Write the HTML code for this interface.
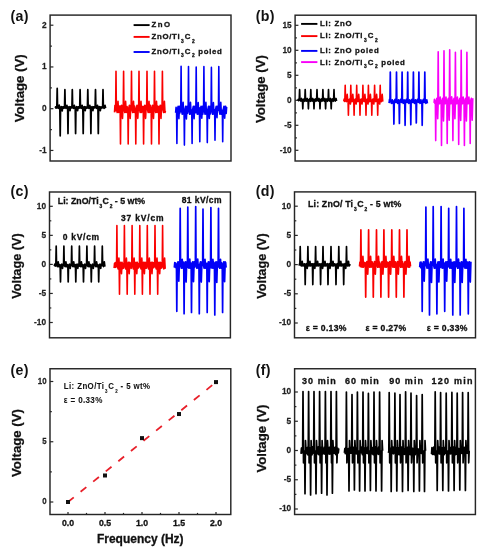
<!DOCTYPE html>
<html><head><meta charset="utf-8"><style>
html,body{margin:0;padding:0;background:#fff;}
svg{display:block;filter:blur(0.3px);}
text{font-family:"Liberation Sans",sans-serif;}
</style></head><body>
<svg width="484" height="550" viewBox="0 0 484 550">
<rect width="484" height="550" fill="#fff"/>
<rect x="50.1" y="15.1" width="180.9" height="145.9" fill="none" stroke="#262626" stroke-width="1.45"/>
<line x1="50.1" y1="25.20" x2="53.4" y2="25.20" stroke="#262626" stroke-width="1.2"/>
<line x1="50.1" y1="66.95" x2="53.4" y2="66.95" stroke="#262626" stroke-width="1.2"/>
<line x1="50.1" y1="108.70" x2="53.4" y2="108.70" stroke="#262626" stroke-width="1.2"/>
<line x1="50.1" y1="150.45" x2="53.4" y2="150.45" stroke="#262626" stroke-width="1.2"/>
<line x1="50.1" y1="46.08" x2="51.9" y2="46.08" stroke="#262626" stroke-width="1.2"/>
<line x1="50.1" y1="87.83" x2="51.9" y2="87.83" stroke="#262626" stroke-width="1.2"/>
<line x1="50.1" y1="129.57" x2="51.9" y2="129.57" stroke="#262626" stroke-width="1.2"/>
<line x1="133.6" y1="25.1" x2="149.6" y2="25.1" stroke="#000000" stroke-width="1.9"/>
<line x1="133.6" y1="36.9" x2="149.6" y2="36.9" stroke="#fa0000" stroke-width="1.9"/>
<line x1="133.6" y1="52" x2="149.6" y2="52" stroke="#0000f8" stroke-width="1.9"/>
<path d="M55.20,107.90 L55.65,106.85 L56.10,108.12 L56.55,107.06 L56.85,107.50 L57.20,88.40 L57.55,107.50 L58.40,108.20 L59.20,105.21 L59.80,108.20 L59.85,107.50 L60.20,135.80 L60.55,107.50 L61.40,106.80 L62.20,110.90 L62.80,106.80 L63.25,108.02 L63.70,106.99 L64.15,108.08 L64.55,107.50 L64.90,89.70 L65.25,107.50 L66.10,108.20 L66.90,105.36 L67.50,108.20 L67.65,107.50 L68.00,133.50 L68.35,107.50 L69.20,106.80 L70.00,110.62 L70.60,106.80 L71.05,106.87 L71.50,107.88 L71.95,107.50 L72.30,89.70 L72.65,107.50 L73.50,108.20 L74.30,105.36 L74.90,108.20 L75.25,107.50 L75.60,133.50 L75.95,107.50 L76.80,106.80 L77.60,110.62 L78.20,106.80 L78.65,107.14 L79.10,108.14 L79.55,107.00 L79.75,107.50 L80.10,89.70 L80.45,107.50 L81.30,108.20 L82.10,105.36 L82.70,108.20 L82.85,107.50 L83.20,133.50 L83.55,107.50 L84.40,106.80 L85.20,110.62 L85.80,106.80 L86.25,108.12 L86.70,107.15 L87.15,108.01 L87.45,107.50 L87.80,89.70 L88.15,107.50 L89.00,108.20 L89.80,105.36 L90.40,108.20 L90.55,107.50 L90.90,133.50 L91.25,107.50 L92.10,106.80 L92.90,110.62 L93.50,106.80 L93.95,106.90 L94.40,107.93 L94.85,106.82 L95.15,107.50 L95.50,89.70 L95.85,107.50 L96.70,108.20 L97.50,105.36 L98.10,108.20 L97.95,107.50 L98.30,133.50 L98.65,107.50 L99.50,106.80 L100.30,110.62 L100.90,106.80 L101.35,108.17 L101.80,107.14 L102.25,107.86 L102.65,107.50 L103.00,89.70 L103.35,107.50 L104.20,108.20 L105.00,105.36 L105.60,108.20" fill="none" stroke="#000000" stroke-width="1.75" stroke-linejoin="round"/>
<path d="M114.50,112.42 L114.95,105.39 L115.40,110.80 L115.65,108.90 L116.00,71.30 L116.35,108.90 L117.20,112.50 L118.00,101.38 L118.60,112.50 L119.05,106.95 L119.50,112.20 L119.95,105.78 L120.15,108.90 L120.50,144.00 L120.85,108.90 L121.70,105.30 L122.50,118.38 L123.10,105.30 L123.25,108.90 L123.60,71.30 L123.95,108.90 L124.80,112.50 L125.60,101.38 L126.20,112.50 L126.65,111.91 L127.10,106.55 L127.55,111.79 L127.85,108.90 L128.20,144.00 L128.55,108.90 L129.40,105.30 L130.20,118.38 L130.80,105.30 L131.15,108.90 L131.50,71.30 L131.85,108.90 L132.70,112.50 L133.50,101.38 L134.10,112.50 L134.55,106.01 L135.00,111.75 L135.45,108.90 L135.80,144.00 L136.15,108.90 L137.00,105.30 L137.80,118.38 L138.40,105.30 L138.65,108.90 L139.00,71.30 L139.35,108.90 L140.20,112.50 L141.00,101.38 L141.60,112.50 L142.05,106.81 L142.50,111.48 L142.95,106.39 L143.25,108.90 L143.60,144.00 L143.95,108.90 L144.80,105.30 L145.60,118.38 L146.20,105.30 L146.65,108.90 L147.00,71.30 L147.35,108.90 L148.20,112.50 L149.00,101.38 L149.60,112.50 L150.05,112.00 L150.50,105.31 L150.95,112.41 L151.15,108.90 L151.50,144.00 L151.85,108.90 L152.70,105.30 L153.50,118.38 L154.10,105.30 L154.15,108.90 L154.50,71.30 L154.85,108.90 L155.70,112.50 L156.50,101.38 L157.10,112.50 L157.55,106.12 L158.00,111.50 L158.45,106.62 L158.65,108.90 L159.00,144.00 L159.35,108.90 L160.20,105.30 L161.00,118.38 L161.60,105.30 L162.05,108.90 L162.40,71.30 L162.75,108.90 L163.60,112.50 L164.40,101.38 L165.00,112.50 L165.45,110.76" fill="none" stroke="#fa0000" stroke-width="1.6" stroke-linejoin="round"/>
<path d="M175.60,112.78 L176.05,107.21 L176.55,110.30 L176.90,143.50 L177.25,110.30 L178.10,106.30 L178.90,118.60 L179.50,106.30 L179.95,113.04 L180.40,107.09 L180.75,110.30 L181.10,66.20 L181.45,110.30 L182.30,114.30 L183.10,102.36 L183.70,114.30 L184.05,110.30 L184.40,145.10 L184.75,110.30 L185.60,106.30 L186.40,119.00 L187.00,106.30 L187.45,113.55 L187.90,108.17 L188.15,110.30 L188.50,66.50 L188.85,110.30 L189.70,114.30 L190.50,102.42 L191.10,114.30 L191.55,112.33 L191.75,110.30 L192.10,143.50 L192.45,110.30 L193.30,106.30 L194.10,118.60 L194.70,106.30 L195.15,106.63 L195.60,112.82 L195.85,110.30 L196.20,67.00 L196.55,110.30 L197.40,114.30 L198.20,102.51 L198.80,114.30 L199.25,107.83 L199.45,110.30 L199.80,141.80 L200.15,110.30 L201.00,106.30 L201.80,118.17 L202.40,106.30 L202.85,114.29 L203.30,107.36 L203.55,110.30 L203.90,66.50 L204.25,110.30 L205.10,114.30 L205.90,102.42 L206.50,114.30 L206.95,110.30 L207.30,142.60 L207.65,110.30 L208.50,106.30 L209.30,118.38 L209.90,106.30 L210.35,113.97 L210.80,107.35 L211.05,110.30 L211.40,67.40 L211.75,110.30 L212.60,114.30 L213.40,102.58 L214.00,114.30 L214.45,113.58 L214.65,110.30 L215.00,140.20 L215.35,110.30 L216.20,106.30 L217.00,117.77 L217.60,106.30 L218.05,108.00 L218.45,110.30 L218.80,66.50 L219.15,110.30 L220.00,114.30 L220.80,102.42 L221.40,114.30 L221.85,113.57 L222.35,110.30 L222.70,141.80 L223.05,110.30 L223.90,106.30 L224.70,118.17 L225.30,106.30 L225.75,106.56 L226.20,113.35 L226.65,106.82" fill="none" stroke="#0000f8" stroke-width="1.6" stroke-linejoin="round"/>
<rect x="295.1" y="15.2" width="181.0" height="145.8" fill="none" stroke="#262626" stroke-width="1.45"/>
<line x1="295.1" y1="25.30" x2="298.40000000000003" y2="25.30" stroke="#262626" stroke-width="1.2"/>
<line x1="295.1" y1="50.30" x2="298.40000000000003" y2="50.30" stroke="#262626" stroke-width="1.2"/>
<line x1="295.1" y1="75.30" x2="298.40000000000003" y2="75.30" stroke="#262626" stroke-width="1.2"/>
<line x1="295.1" y1="100.30" x2="298.40000000000003" y2="100.30" stroke="#262626" stroke-width="1.2"/>
<line x1="295.1" y1="125.30" x2="298.40000000000003" y2="125.30" stroke="#262626" stroke-width="1.2"/>
<line x1="295.1" y1="150.30" x2="298.40000000000003" y2="150.30" stroke="#262626" stroke-width="1.2"/>
<line x1="295.1" y1="37.80" x2="296.90000000000003" y2="37.80" stroke="#262626" stroke-width="1.2"/>
<line x1="295.1" y1="62.80" x2="296.90000000000003" y2="62.80" stroke="#262626" stroke-width="1.2"/>
<line x1="295.1" y1="87.80" x2="296.90000000000003" y2="87.80" stroke="#262626" stroke-width="1.2"/>
<line x1="295.1" y1="112.80" x2="296.90000000000003" y2="112.80" stroke="#262626" stroke-width="1.2"/>
<line x1="295.1" y1="137.80" x2="296.90000000000003" y2="137.80" stroke="#262626" stroke-width="1.2"/>
<line x1="301.1" y1="23.9" x2="317.4" y2="23.9" stroke="#000000" stroke-width="1.9"/>
<line x1="301.1" y1="36.1" x2="317.4" y2="36.1" stroke="#fa0000" stroke-width="1.9"/>
<line x1="301.1" y1="50.9" x2="317.4" y2="50.9" stroke="#0000f8" stroke-width="1.9"/>
<line x1="301.1" y1="62.1" x2="317.4" y2="62.1" stroke="#f800f8" stroke-width="1.9"/>
<path d="M297.80,100.62 L298.25,99.45 L298.70,100.70 L299.15,99.42 L299.25,100.00 L299.60,89.70 L299.95,100.00 L300.80,101.00 L301.60,98.45 L302.20,101.00 L302.45,100.00 L302.80,108.80 L303.15,100.00 L304.00,99.00 L304.80,101.32 L305.40,99.00 L304.85,100.00 L305.20,89.70 L305.55,100.00 L306.40,101.00 L307.20,98.45 L307.80,101.00 L308.05,100.00 L308.40,108.80 L308.75,100.00 L309.60,99.00 L310.40,101.32 L311.00,99.00 L310.45,100.00 L310.80,89.70 L311.15,100.00 L312.00,101.00 L312.80,98.45 L313.40,101.00 L313.65,100.00 L314.00,108.80 L314.35,100.00 L315.20,99.00 L316.00,101.32 L316.60,99.00 L316.65,100.00 L317.00,89.70 L317.35,100.00 L318.20,101.00 L319.00,98.45 L319.60,101.00 L319.65,100.00 L320.00,108.80 L320.35,100.00 L321.20,99.00 L322.00,101.32 L322.60,99.00 L322.55,100.00 L322.90,89.70 L323.25,100.00 L324.10,101.00 L324.90,98.45 L325.50,101.00 L325.25,100.00 L325.60,108.80 L325.95,100.00 L326.80,99.00 L327.60,101.32 L328.20,99.00 L328.15,100.00 L328.50,89.70 L328.85,100.00 L329.70,101.00 L330.50,98.45 L331.10,101.00 L330.85,100.00 L331.20,108.80 L331.55,100.00 L332.40,99.00 L333.20,101.32 L333.80,99.00 L333.65,100.00 L334.00,89.70 L334.35,100.00 L335.20,101.00 L336.00,98.45 L336.60,101.00" fill="none" stroke="#000000" stroke-width="1.7" stroke-linejoin="round"/>
<path d="M343.70,101.35 L344.15,99.17 L344.60,101.47 L344.85,100.30 L345.20,85.20 L345.55,100.30 L346.40,101.60 L347.20,94.26 L347.80,101.60 L348.05,100.30 L348.40,115.30 L348.75,100.30 L349.60,99.00 L350.40,104.05 L351.00,99.00 L350.45,100.30 L350.80,85.20 L351.15,100.30 L352.00,101.60 L352.80,94.26 L353.40,101.60 L353.75,100.30 L354.10,115.30 L354.45,100.30 L355.30,99.00 L356.10,104.05 L356.70,99.00 L356.35,100.30 L356.70,85.20 L357.05,100.30 L357.90,101.60 L358.70,94.26 L359.30,101.60 L359.65,100.30 L360.00,115.30 L360.35,100.30 L361.20,99.00 L362.00,104.05 L362.60,99.00 L362.55,100.30 L362.90,85.20 L363.25,100.30 L364.10,101.60 L364.90,94.26 L365.50,101.60 L365.65,100.30 L366.00,115.30 L366.35,100.30 L367.20,99.00 L368.00,104.05 L368.60,99.00 L368.05,100.30 L368.40,85.20 L368.75,100.30 L369.60,101.60 L370.40,94.26 L371.00,101.60 L371.45,100.30 L371.80,115.30 L372.15,100.30 L373.00,99.00 L373.80,104.05 L374.40,99.00 L374.25,100.30 L374.60,85.20 L374.95,100.30 L375.80,101.60 L376.60,94.26 L377.20,101.60 L377.35,100.30 L377.70,115.30 L378.05,100.30 L378.90,99.00 L379.70,104.05 L380.30,99.00 L379.85,100.30 L380.20,85.20 L380.55,100.30 L381.40,101.60 L382.20,94.26 L382.80,101.60" fill="none" stroke="#fa0000" stroke-width="1.6" stroke-linejoin="round"/>
<path d="M389.10,103.09 L389.55,99.48 L389.95,101.30 L390.30,72.10 L390.65,101.30 L391.50,103.30 L392.30,99.84 L392.90,103.30 L393.35,102.79 L393.55,101.30 L393.90,124.10 L394.25,101.30 L395.10,99.30 L395.90,102.44 L396.50,99.30 L396.15,101.30 L396.50,72.10 L396.85,101.30 L397.70,103.30 L398.50,99.84 L399.10,103.30 L399.05,101.30 L399.40,123.50 L399.75,101.30 L400.60,99.30 L401.40,102.41 L402.00,99.30 L401.75,101.30 L402.10,72.10 L402.45,101.30 L403.30,103.30 L404.10,99.84 L404.70,103.30 L404.75,101.30 L405.10,125.30 L405.45,101.30 L406.30,99.30 L407.10,102.50 L407.70,99.30 L407.35,101.30 L407.70,72.10 L408.05,101.30 L408.90,103.30 L409.70,99.84 L410.30,103.30 L410.45,101.30 L410.80,124.70 L411.15,101.30 L412.00,99.30 L412.80,102.47 L413.40,99.30 L413.05,101.30 L413.40,72.10 L413.75,101.30 L414.60,103.30 L415.40,99.84 L416.00,103.30 L415.95,101.30 L416.30,122.90 L416.65,101.30 L417.50,99.30 L418.30,102.38 L418.90,99.30 L418.55,101.30 L418.90,72.10 L419.25,101.30 L420.10,103.30 L420.90,99.84 L421.50,103.30 L421.85,101.30 L422.20,125.30 L422.55,101.30 L423.40,99.30 L424.20,102.50 L424.80,99.30 L424.45,101.30 L424.80,72.10 L425.15,101.30 L426.00,103.30 L426.80,99.84 L427.40,103.30" fill="none" stroke="#0000f8" stroke-width="1.7" stroke-linejoin="round"/>
<path d="M434.00,102.85 L434.45,99.39 L434.90,103.31 L435.35,101.00 L435.70,140.60 L436.05,101.00 L436.90,98.20 L437.70,118.82 L438.30,98.20 L437.85,101.00 L438.20,51.70 L438.55,101.00 L439.40,103.80 L440.20,97.06 L440.80,103.80 L441.15,101.00 L441.50,145.40 L441.85,101.00 L442.70,98.20 L443.50,120.98 L444.10,98.20 L443.65,101.00 L444.00,50.70 L444.35,101.00 L445.20,103.80 L446.00,96.98 L446.60,103.80 L446.85,101.00 L447.20,143.50 L447.55,101.00 L448.40,98.20 L449.20,120.12 L449.80,98.20 L449.35,101.00 L449.70,49.80 L450.05,101.00 L450.90,103.80 L451.70,96.90 L452.30,103.80 L452.55,101.00 L452.90,140.60 L453.25,101.00 L454.10,98.20 L454.90,118.82 L455.50,98.20 L455.05,101.00 L455.40,52.30 L455.75,101.00 L456.60,103.80 L457.40,97.10 L458.00,103.80 L458.35,101.00 L458.70,144.40 L459.05,101.00 L459.90,98.20 L460.70,120.53 L461.30,98.20 L460.85,101.00 L461.20,50.40 L461.55,101.00 L462.40,103.80 L463.20,96.95 L463.80,103.80 L464.05,101.00 L464.40,145.40 L464.75,101.00 L465.60,98.20 L466.40,120.98 L467.00,98.20 L466.55,101.00 L466.90,52.30 L467.25,101.00 L468.10,103.80 L468.90,97.10 L469.50,103.80 L469.85,101.00 L470.20,143.50 L470.55,101.00 L471.40,98.20 L472.20,120.12 L472.80,98.20" fill="none" stroke="#f800f8" stroke-width="1.6" stroke-linejoin="round"/>
<rect x="49.5" y="192" width="180.9" height="145.8" fill="none" stroke="#262626" stroke-width="1.45"/>
<line x1="49.5" y1="206.30" x2="52.8" y2="206.30" stroke="#262626" stroke-width="1.2"/>
<line x1="49.5" y1="235.35" x2="52.8" y2="235.35" stroke="#262626" stroke-width="1.2"/>
<line x1="49.5" y1="264.40" x2="52.8" y2="264.40" stroke="#262626" stroke-width="1.2"/>
<line x1="49.5" y1="293.45" x2="52.8" y2="293.45" stroke="#262626" stroke-width="1.2"/>
<line x1="49.5" y1="322.50" x2="52.8" y2="322.50" stroke="#262626" stroke-width="1.2"/>
<line x1="49.5" y1="220.82" x2="51.3" y2="220.82" stroke="#262626" stroke-width="1.2"/>
<line x1="49.5" y1="249.87" x2="51.3" y2="249.87" stroke="#262626" stroke-width="1.2"/>
<line x1="49.5" y1="278.92" x2="51.3" y2="278.92" stroke="#262626" stroke-width="1.2"/>
<line x1="49.5" y1="307.97" x2="51.3" y2="307.97" stroke="#262626" stroke-width="1.2"/>
<path d="M54.30,266.14 L54.75,264.22 L55.20,266.08 L55.65,264.38 L55.85,265.40 L56.20,246.20 L56.55,265.40 L57.40,266.60 L58.20,261.75 L58.80,266.60 L59.25,266.05 L59.70,264.65 L60.15,265.40 L60.50,281.90 L60.85,265.40 L61.70,264.20 L62.50,268.37 L63.10,264.20 L63.55,265.40 L63.90,246.20 L64.25,265.40 L65.10,266.60 L65.90,261.75 L66.50,266.60 L66.95,266.60 L67.40,264.67 L67.85,265.40 L68.20,281.90 L68.55,265.40 L69.40,264.20 L70.20,268.37 L70.80,264.20 L71.35,265.40 L71.70,246.20 L72.05,265.40 L72.90,266.60 L73.70,261.75 L74.30,266.60 L74.75,266.39 L75.20,264.52 L75.45,265.40 L75.80,281.90 L76.15,265.40 L77.00,264.20 L77.80,268.37 L78.40,264.20 L78.85,266.27 L79.05,265.40 L79.40,246.20 L79.75,265.40 L80.60,266.60 L81.40,261.75 L82.00,266.60 L82.45,264.50 L82.90,266.12 L83.15,265.40 L83.50,281.90 L83.85,265.40 L84.70,264.20 L85.50,268.37 L86.10,264.20 L86.55,265.40 L86.90,246.20 L87.25,265.40 L88.10,266.60 L88.90,261.75 L89.50,266.60 L89.95,264.30 L90.40,266.05 L90.95,265.40 L91.30,281.90 L91.65,265.40 L92.50,264.20 L93.30,268.37 L93.90,264.20 L94.25,265.40 L94.60,246.20 L94.95,265.40 L95.80,266.60 L96.60,261.75 L97.20,266.60 L97.65,264.66 L98.10,266.01 L98.35,265.40 L98.70,281.90 L99.05,265.40 L99.90,264.20 L100.70,268.37 L101.30,264.20 L101.75,264.64 L101.95,265.40 L102.30,246.20 L102.65,265.40 L103.50,266.60 L104.30,261.75 L104.90,266.60" fill="none" stroke="#000000" stroke-width="1.7" stroke-linejoin="round"/>
<path d="M114.10,268.01 L114.55,263.33 L115.00,267.48 L115.45,262.52 L115.90,267.26 L116.35,263.12 L116.55,265.60 L116.90,225.50 L117.25,265.60 L118.10,268.90 L118.90,257.98 L119.50,268.90 L119.15,265.60 L119.50,294.20 L119.85,265.60 L120.70,262.30 L121.50,273.61 L122.10,262.30 L122.55,268.73 L123.00,263.82 L123.45,268.16 L123.90,262.93 L124.05,265.60 L124.40,225.50 L124.75,265.60 L125.60,268.90 L126.40,257.98 L127.00,268.90 L126.85,265.60 L127.20,294.20 L127.55,265.60 L128.40,262.30 L129.20,273.61 L129.80,262.30 L130.25,267.32 L130.70,263.32 L131.15,268.41 L131.60,263.20 L131.75,265.60 L132.10,225.50 L132.45,265.60 L133.30,268.90 L134.10,257.98 L134.70,268.90 L134.45,265.60 L134.80,294.20 L135.15,265.60 L136.00,262.30 L136.80,273.61 L137.40,262.30 L137.85,268.45 L138.30,263.69 L138.75,267.64 L139.20,263.77 L139.45,265.60 L139.80,225.50 L140.15,265.60 L141.00,268.90 L141.80,257.98 L142.40,268.90 L142.05,265.60 L142.40,294.20 L142.75,265.60 L143.60,262.30 L144.40,273.61 L145.00,262.30 L145.45,268.09 L145.90,262.43 L146.35,268.22 L146.80,262.67 L146.95,265.60 L147.30,225.50 L147.65,265.60 L148.50,268.90 L149.30,257.98 L149.90,268.90 L149.65,265.60 L150.00,294.20 L150.35,265.60 L151.20,262.30 L152.00,273.61 L152.60,262.30 L153.05,267.88 L153.50,262.72 L153.95,267.42 L154.40,263.47 L154.65,265.60 L155.00,225.50 L155.35,265.60 L156.20,268.90 L157.00,257.98 L157.60,268.90 L157.35,265.60 L157.70,294.20 L158.05,265.60 L158.90,262.30 L159.70,273.61 L160.30,262.30 L160.75,268.36 L161.20,262.75 L161.65,267.95 L162.10,263.81 L162.25,265.60 L162.60,225.50 L162.95,265.60 L163.80,268.90 L164.60,257.98 L165.20,268.90" fill="none" stroke="#fa0000" stroke-width="1.6" stroke-linejoin="round"/>
<path d="M174.30,267.51 L174.75,262.71 L175.20,267.52 L175.65,263.07 L176.10,267.90 L176.45,265.00 L176.80,311.30 L177.15,265.00 L178.00,261.80 L178.80,281.20 L179.40,261.80 L179.85,265.00 L180.20,208.30 L180.55,265.00 L181.40,268.20 L182.20,259.33 L182.80,268.20 L183.25,262.08 L183.75,265.00 L184.10,313.70 L184.45,265.00 L185.30,261.80 L186.10,282.05 L186.70,261.80 L187.15,267.65 L187.45,265.00 L187.80,207.10 L188.15,265.00 L189.00,268.20 L189.80,259.21 L190.40,268.20 L190.85,263.14 L191.15,265.00 L191.50,312.50 L191.85,265.00 L192.70,261.80 L193.50,281.62 L194.10,261.80 L194.55,267.43 L195.00,262.88 L195.35,265.00 L195.70,206.60 L196.05,265.00 L196.90,268.20 L197.70,259.16 L198.30,268.20 L198.75,267.00 L198.95,265.00 L199.30,313.70 L199.65,265.00 L200.50,261.80 L201.30,282.05 L201.90,261.80 L202.35,261.88 L202.65,265.00 L203.00,209.00 L203.35,265.00 L204.20,268.20 L205.00,259.40 L205.60,268.20 L206.05,268.19 L206.50,263.33 L206.85,265.00 L207.20,312.50 L207.55,265.00 L208.40,261.80 L209.20,281.62 L209.80,261.80 L210.25,267.98 L210.55,265.00 L210.90,207.60 L211.25,265.00 L212.10,268.20 L212.90,259.26 L213.50,268.20 L213.95,262.43 L214.45,265.00 L214.80,315.00 L215.15,265.00 L216.00,261.80 L216.80,282.50 L217.40,261.80 L217.85,267.21 L218.15,265.00 L218.50,208.30 L218.85,265.00 L219.70,268.20 L220.50,259.33 L221.10,268.20 L221.55,262.95 L222.00,267.68 L222.25,265.00 L222.60,312.50 L222.95,265.00 L223.80,261.80 L224.60,281.62 L225.20,261.80 L225.65,262.67 L226.10,267.70" fill="none" stroke="#0000f8" stroke-width="1.7" stroke-linejoin="round"/>
<rect x="294.5" y="191.9" width="181.0" height="145.9" fill="none" stroke="#262626" stroke-width="1.45"/>
<line x1="294.5" y1="206.20" x2="297.8" y2="206.20" stroke="#262626" stroke-width="1.2"/>
<line x1="294.5" y1="235.40" x2="297.8" y2="235.40" stroke="#262626" stroke-width="1.2"/>
<line x1="294.5" y1="264.60" x2="297.8" y2="264.60" stroke="#262626" stroke-width="1.2"/>
<line x1="294.5" y1="293.80" x2="297.8" y2="293.80" stroke="#262626" stroke-width="1.2"/>
<line x1="294.5" y1="323.00" x2="297.8" y2="323.00" stroke="#262626" stroke-width="1.2"/>
<line x1="294.5" y1="220.80" x2="296.3" y2="220.80" stroke="#262626" stroke-width="1.2"/>
<line x1="294.5" y1="250.00" x2="296.3" y2="250.00" stroke="#262626" stroke-width="1.2"/>
<line x1="294.5" y1="279.20" x2="296.3" y2="279.20" stroke="#262626" stroke-width="1.2"/>
<line x1="294.5" y1="308.40" x2="296.3" y2="308.40" stroke="#262626" stroke-width="1.2"/>
<path d="M299.10,265.60 L299.55,263.94 L299.85,264.80 L300.20,246.60 L300.55,264.80 L301.40,265.90 L302.20,261.34 L302.80,265.90 L303.25,265.86 L303.70,263.99 L304.15,265.63 L304.60,263.93 L304.85,264.80 L305.20,284.60 L305.55,264.80 L306.40,263.70 L307.20,268.36 L307.80,263.70 L307.55,264.80 L307.90,246.60 L308.25,264.80 L309.10,265.90 L309.90,261.34 L310.50,265.90 L310.95,265.45 L311.40,263.97 L311.85,265.70 L312.30,263.81 L312.45,264.80 L312.80,284.60 L313.15,264.80 L314.00,263.70 L314.80,268.36 L315.40,263.70 L315.25,264.80 L315.60,246.60 L315.95,264.80 L316.80,265.90 L317.60,261.34 L318.20,265.90 L318.65,265.40 L319.10,264.08 L319.55,265.40 L320.00,263.80 L320.25,264.80 L320.60,284.60 L320.95,264.80 L321.80,263.70 L322.60,268.36 L323.20,263.70 L322.65,264.80 L323.00,246.60 L323.35,264.80 L324.20,265.90 L325.00,261.34 L325.60,265.90 L326.05,265.73 L326.50,264.23 L326.95,265.89 L327.40,263.72 L327.65,264.80 L328.00,284.60 L328.35,264.80 L329.20,263.70 L330.00,268.36 L330.60,263.70 L330.65,264.80 L331.00,246.60 L331.35,264.80 L332.20,265.90 L333.00,261.34 L333.60,265.90 L334.05,265.71 L334.50,263.91 L334.95,265.44 L335.40,264.24 L335.65,264.80 L336.00,284.60 L336.35,264.80 L337.20,263.70 L338.00,268.36 L338.60,263.70 L338.45,264.80 L338.80,246.60 L339.15,264.80 L340.00,265.90 L340.80,261.34 L341.40,265.90 L341.85,265.64 L342.30,264.22 L342.75,265.45 L343.20,264.12 L343.35,264.80 L343.70,284.60 L344.05,264.80 L344.90,263.70 L345.70,268.36 L346.30,263.70 L346.15,264.80 L346.50,246.60 L346.85,264.80 L347.70,265.90 L348.50,261.34 L349.10,265.90 L349.55,265.37 L350.00,263.99" fill="none" stroke="#000000" stroke-width="1.7" stroke-linejoin="round"/>
<path d="M359.50,266.46 L359.95,262.08 L360.40,266.73 L360.55,264.40 L360.90,229.90 L361.25,264.40 L362.10,267.20 L362.90,256.46 L363.50,267.20 L363.95,262.80 L364.40,265.82 L364.85,262.48 L365.35,264.40 L365.70,297.10 L366.05,264.40 L366.90,261.60 L367.70,274.21 L368.30,261.60 L368.25,264.40 L368.60,229.90 L368.95,264.40 L369.80,267.20 L370.60,256.46 L371.20,267.20 L371.65,266.18 L372.10,261.87 L372.55,266.77 L372.95,264.40 L373.30,297.10 L373.65,264.40 L374.50,261.60 L375.30,274.21 L375.90,261.60 L376.15,264.40 L376.50,229.90 L376.85,264.40 L377.70,267.20 L378.50,256.46 L379.10,267.20 L379.55,262.16 L380.00,266.58 L380.55,264.40 L380.90,297.10 L381.25,264.40 L382.10,261.60 L382.90,274.21 L383.50,261.60 L383.55,264.40 L383.90,229.90 L384.25,264.40 L385.10,267.20 L385.90,256.46 L386.50,267.20 L386.95,262.07 L387.40,266.00 L387.85,262.38 L388.25,264.40 L388.60,297.10 L388.95,264.40 L389.80,261.60 L390.60,274.21 L391.20,261.60 L391.45,264.40 L391.80,229.90 L392.15,264.40 L393.00,267.20 L393.80,256.46 L394.40,267.20 L394.85,266.03 L395.30,261.73 L395.75,265.88 L395.95,264.40 L396.30,297.10 L396.65,264.40 L397.50,261.60 L398.30,274.21 L398.90,261.60 L399.15,264.40 L399.50,229.90 L399.85,264.40 L400.70,267.20 L401.50,256.46 L402.10,267.20 L402.55,261.85 L403.00,265.90 L403.55,264.40 L403.90,297.10 L404.25,264.40 L405.10,261.60 L405.90,274.21 L406.50,261.60 L406.65,264.40 L407.00,229.90 L407.35,264.40 L408.20,267.20 L409.00,256.46 L409.60,267.20 L410.05,262.04 L410.50,266.27" fill="none" stroke="#fa0000" stroke-width="1.7" stroke-linejoin="round"/>
<path d="M419.70,267.01 L420.15,262.30 L420.60,267.69 L421.05,262.04 L421.50,266.90 L421.85,265.00 L422.20,311.30 L422.55,265.00 L423.40,261.80 L424.20,281.20 L424.80,261.80 L425.25,263.03 L425.55,265.00 L425.90,207.10 L426.25,265.00 L427.10,268.20 L427.90,259.21 L428.50,268.20 L428.95,266.84 L429.15,265.00 L429.50,315.00 L429.85,265.00 L430.70,261.80 L431.50,282.50 L432.10,261.80 L432.55,263.04 L432.85,265.00 L433.20,206.60 L433.55,265.00 L434.40,268.20 L435.20,259.16 L435.80,268.20 L436.25,267.77 L436.55,265.00 L436.90,313.80 L437.25,265.00 L438.10,261.80 L438.90,282.08 L439.50,261.80 L439.95,263.19 L440.40,267.45 L440.75,265.00 L441.10,206.60 L441.45,265.00 L442.30,268.20 L443.10,259.16 L443.70,268.20 L444.15,263.06 L444.35,265.00 L444.70,311.30 L445.05,265.00 L445.90,261.80 L446.70,281.20 L447.30,261.80 L447.75,267.07 L448.20,262.71 L448.35,265.00 L448.70,208.30 L449.05,265.00 L449.90,268.20 L450.70,259.33 L451.30,268.20 L451.75,267.94 L452.20,262.43 L452.45,265.00 L452.80,315.00 L453.15,265.00 L454.00,261.80 L454.80,282.50 L455.40,261.80 L455.85,266.62 L456.15,265.00 L456.50,206.60 L456.85,265.00 L457.70,268.20 L458.50,259.16 L459.10,268.20 L459.55,262.96 L459.85,265.00 L460.20,315.00 L460.55,265.00 L461.40,261.80 L462.20,282.50 L462.80,261.80 L463.25,266.83 L463.55,265.00 L463.90,208.30 L464.25,265.00 L465.10,268.20 L465.90,259.33 L466.50,268.20 L466.95,262.01 L467.40,267.90 L467.85,262.11 L467.95,265.00 L468.30,313.80 L468.65,265.00 L469.50,261.80 L470.30,282.08 L470.90,261.80" fill="none" stroke="#0000f8" stroke-width="1.7" stroke-linejoin="round"/>
<rect x="50" y="368.75" width="180.8" height="145.75" fill="none" stroke="#262626" stroke-width="1.45"/>
<line x1="50" y1="381.50" x2="53.3" y2="381.50" stroke="#262626" stroke-width="1.2"/>
<line x1="50" y1="441.75" x2="53.3" y2="441.75" stroke="#262626" stroke-width="1.2"/>
<line x1="50" y1="502.00" x2="53.3" y2="502.00" stroke="#262626" stroke-width="1.2"/>
<line x1="50" y1="411.62" x2="51.8" y2="411.62" stroke="#262626" stroke-width="1.2"/>
<line x1="50" y1="471.88" x2="51.8" y2="471.88" stroke="#262626" stroke-width="1.2"/>
<line x1="68.00" y1="514.5" x2="68.00" y2="511.9" stroke="#262626" stroke-width="1.2"/>
<line x1="105.00" y1="514.5" x2="105.00" y2="511.9" stroke="#262626" stroke-width="1.2"/>
<line x1="142.00" y1="514.5" x2="142.00" y2="511.9" stroke="#262626" stroke-width="1.2"/>
<line x1="179.00" y1="514.5" x2="179.00" y2="511.9" stroke="#262626" stroke-width="1.2"/>
<line x1="216.00" y1="514.5" x2="216.00" y2="511.9" stroke="#262626" stroke-width="1.2"/>
<line x1="86.50" y1="514.5" x2="86.50" y2="512.9" stroke="#262626" stroke-width="1.2"/>
<line x1="123.50" y1="514.5" x2="123.50" y2="512.9" stroke="#262626" stroke-width="1.2"/>
<line x1="160.50" y1="514.5" x2="160.50" y2="512.9" stroke="#262626" stroke-width="1.2"/>
<line x1="197.50" y1="514.5" x2="197.50" y2="512.9" stroke="#262626" stroke-width="1.2"/>
<line x1="68" y1="502.0" x2="216" y2="382.1025" stroke="#e8202a" stroke-width="1.8" stroke-dasharray="7.4,8.8" stroke-dashoffset="0"/>
<rect x="66.00" y="500.00" width="4" height="4" fill="#111"/>
<rect x="103.00" y="473.49" width="4" height="4" fill="#111"/>
<rect x="140.00" y="436.13" width="4" height="4" fill="#111"/>
<rect x="177.00" y="412.03" width="4" height="4" fill="#111"/>
<rect x="214.00" y="380.10" width="4" height="4" fill="#111"/>
<rect x="294.6" y="368.75" width="180.79999999999995" height="145.75" fill="none" stroke="#262626" stroke-width="1.45"/>
<line x1="294.6" y1="392.00" x2="297.90000000000003" y2="392.00" stroke="#262626" stroke-width="1.2"/>
<line x1="294.6" y1="421.25" x2="297.90000000000003" y2="421.25" stroke="#262626" stroke-width="1.2"/>
<line x1="294.6" y1="450.50" x2="297.90000000000003" y2="450.50" stroke="#262626" stroke-width="1.2"/>
<line x1="294.6" y1="479.75" x2="297.90000000000003" y2="479.75" stroke="#262626" stroke-width="1.2"/>
<line x1="294.6" y1="509.00" x2="297.90000000000003" y2="509.00" stroke="#262626" stroke-width="1.2"/>
<line x1="294.6" y1="406.62" x2="296.40000000000003" y2="406.62" stroke="#262626" stroke-width="1.2"/>
<line x1="294.6" y1="435.88" x2="296.40000000000003" y2="435.88" stroke="#262626" stroke-width="1.2"/>
<line x1="294.6" y1="465.12" x2="296.40000000000003" y2="465.12" stroke="#262626" stroke-width="1.2"/>
<line x1="294.6" y1="494.38" x2="296.40000000000003" y2="494.38" stroke="#262626" stroke-width="1.2"/>
<path d="M301.00,453.88 L301.45,448.22 L301.90,452.86 L302.35,447.49 L302.65,450.80 L303.00,391.50 L303.50,462.80 L304.00,450.80 L304.45,453.22 L304.65,450.80 L305.00,493.75 L305.50,440.60 L306.00,450.80 L306.45,448.29 L306.90,453.59 L307.35,447.52 L307.80,454.78 L308.25,450.80 L308.60,391.50 L309.10,462.80 L309.60,450.80 L310.05,447.88 L310.25,450.80 L310.60,495.00 L311.10,440.60 L311.60,450.80 L312.05,454.79 L312.50,446.81 L312.95,453.29 L313.40,448.65 L313.65,450.80 L314.00,391.50 L314.50,462.80 L315.00,450.80 L315.45,453.12 L315.65,450.80 L316.00,493.75 L316.50,440.60 L317.00,450.80 L317.45,447.12 L317.90,454.00 L318.35,446.97 L318.80,454.74 L319.25,450.80 L319.60,391.50 L320.10,462.80 L320.60,450.80 L321.05,447.49 L321.25,450.80 L321.60,493.25 L322.10,440.60 L322.60,450.80 L323.05,453.87 L323.50,448.66 L323.95,452.85 L324.40,447.19 L324.85,454.14 L325.05,450.80 L325.40,391.50 L325.90,462.80 L326.40,450.80 L326.65,450.80 L327.00,495.00 L327.50,440.60 L328.00,450.80 L328.45,447.27 L328.90,453.93 L329.35,447.45 L329.80,454.08 L330.25,447.01 L330.65,450.80 L331.00,391.50 L331.50,462.80 L332.00,450.80 L332.05,450.80 L332.40,493.25 L332.90,440.60 L333.40,450.80 L333.85,453.02 L334.30,447.81 L334.75,453.42 L335.20,447.14 L335.65,454.55 L336.05,450.80 L336.40,391.50 L336.90,462.80 L337.40,450.80 L337.85,448.30 L338.30,452.96 L338.75,448.31" fill="none" stroke="#000000" stroke-width="1.7" stroke-linejoin="round"/>
<path d="M344.40,452.82 L344.85,448.58 L345.30,453.59 L345.75,447.43 L346.05,450.80 L346.40,392.00 L346.90,462.80 L347.40,450.80 L347.85,453.08 L348.30,448.58 L348.65,450.80 L349.00,491.00 L349.50,440.60 L350.00,450.80 L350.45,453.26 L350.90,447.28 L351.35,453.09 L351.65,450.80 L352.00,394.60 L352.50,462.80 L353.00,450.80 L353.45,447.32 L353.90,454.12 L354.05,450.80 L354.40,490.00 L354.90,440.60 L355.40,450.80 L355.85,448.53 L356.30,453.87 L356.75,447.90 L357.05,450.80 L357.40,392.00 L357.90,462.80 L358.40,450.80 L358.85,453.63 L359.25,450.80 L359.60,491.00 L360.10,440.60 L360.60,450.80 L361.05,446.81 L361.50,452.99 L361.95,448.76 L362.40,454.68 L362.65,450.80 L363.00,392.00 L363.50,462.80 L364.00,450.80 L364.45,447.99 L364.65,450.80 L365.00,491.00 L365.50,440.60 L366.00,450.80 L366.45,453.20 L366.90,448.14 L367.35,453.53 L367.80,446.89 L368.05,450.80 L368.40,393.40 L368.90,462.80 L369.40,450.80 L369.85,453.22 L370.05,450.80 L370.40,490.50 L370.90,440.60 L371.40,450.80 L371.85,448.37 L372.30,453.97 L372.75,447.71 L373.20,454.71 L373.65,450.80 L374.00,392.00 L374.50,462.80 L375.00,450.80 L375.45,447.12 L375.65,450.80 L376.00,491.00 L376.50,440.60 L377.00,450.80 L377.45,453.51 L377.90,448.39 L378.35,454.47 L378.80,446.82 L379.25,450.80 L379.60,392.00 L380.10,462.80 L380.60,450.80 L381.05,452.86 L381.25,450.80 L381.60,491.00 L382.10,440.60 L382.60,450.80" fill="none" stroke="#000000" stroke-width="1.7" stroke-linejoin="round"/>
<path d="M388.40,452.95 L388.85,450.80 L389.20,392.60 L389.70,462.80 L390.20,450.80 L390.65,448.37 L390.85,450.80 L391.20,491.40 L391.70,440.60 L392.20,450.80 L392.65,453.41 L393.10,447.00 L393.55,453.79 L394.00,447.36 L394.45,453.00 L394.55,450.80 L394.90,393.20 L395.40,462.80 L395.90,450.80 L396.35,447.78 L396.45,450.80 L396.80,491.00 L397.30,440.60 L397.80,450.80 L398.25,454.49 L398.70,447.75 L399.15,454.69 L399.65,450.80 L400.00,394.60 L400.50,462.80 L401.00,450.80 L401.45,447.04 L401.90,453.54 L402.15,450.80 L402.50,491.40 L403.00,440.60 L403.50,450.80 L403.95,448.80 L404.40,454.31 L404.85,448.55 L405.25,450.80 L405.60,391.80 L406.10,462.80 L406.60,450.80 L407.05,452.82 L407.50,447.34 L407.75,450.80 L408.10,490.50 L408.60,440.60 L409.10,450.80 L409.55,454.49 L410.00,447.13 L410.45,454.71 L410.65,450.80 L411.00,393.20 L411.50,462.80 L412.00,450.80 L412.45,448.40 L412.90,452.96 L413.35,448.56 L413.45,450.80 L413.80,491.40 L414.30,440.60 L414.80,450.80 L415.25,454.76 L415.70,448.58 L416.15,453.12 L416.25,450.80 L416.60,395.50 L417.10,462.80 L417.60,450.80 L418.05,448.76 L418.50,452.90 L419.05,450.80 L419.40,491.00 L419.90,440.60 L420.40,450.80 L420.85,448.72 L421.30,453.51 L421.75,448.47 L421.85,450.80 L422.20,394.60 L422.70,462.80 L423.20,450.80 L423.65,453.42 L424.15,450.80 L424.50,491.40 L425.00,440.60 L425.50,450.80" fill="none" stroke="#000000" stroke-width="1.7" stroke-linejoin="round"/>
<path d="M431.50,453.94 L431.95,447.54 L432.40,454.43 L432.85,448.25 L433.30,454.10 L433.75,447.02 L434.20,454.62 L434.65,448.43 L434.85,450.80 L435.20,391.80 L435.70,462.80 L436.20,450.80 L436.65,454.10 L436.85,450.80 L437.20,490.50 L437.70,440.60 L438.20,450.80 L438.65,447.57 L439.10,453.81 L439.55,446.87 L440.00,453.86 L440.25,450.80 L440.60,392.60 L441.10,462.80 L441.60,450.80 L442.05,447.91 L442.45,450.80 L442.80,490.50 L443.30,440.60 L443.80,450.80 L444.25,454.69 L444.70,447.53 L445.15,453.40 L445.60,448.18 L445.85,450.80 L446.20,393.20 L446.70,462.80 L447.20,450.80 L447.65,453.79 L448.15,450.80 L448.50,491.00 L449.00,440.60 L449.50,450.80 L449.95,448.69 L450.40,454.02 L450.85,447.33 L451.30,453.65 L451.55,450.80 L451.90,392.40 L452.40,462.80 L452.90,450.80 L453.35,447.11 L453.75,450.80 L454.10,490.50 L454.60,440.60 L455.10,450.80 L455.55,454.66 L456.00,447.69 L456.45,454.16 L456.85,450.80 L457.20,393.20 L457.70,462.80 L458.20,450.80 L458.65,448.57 L459.10,452.91 L459.45,450.80 L459.80,490.00 L460.30,440.60 L460.80,450.80 L461.25,446.84 L461.70,453.37 L462.15,448.37 L462.25,450.80 L462.60,392.60 L463.10,462.80 L463.60,450.80 L464.05,454.59 L464.50,447.30 L465.05,450.80 L465.40,490.50 L465.90,440.60 L466.40,450.80 L466.85,453.05 L467.30,448.16 L467.75,453.29 L467.85,450.80 L468.20,392.60 L468.70,462.80 L469.20,450.80" fill="none" stroke="#000000" stroke-width="1.7" stroke-linejoin="round"/>
<text x="10.5" y="21.4" font-size="14.2" font-weight="bold" fill="#111" letter-spacing="0.3">(a)</text>
<text x="46.70" y="27.60" font-size="9.9" font-weight="bold" text-anchor="end" fill="#222" stroke="#222" stroke-width="0.25" transform="translate(46.70,0) scale(0.84,1) translate(-46.70,0)">2</text>
<text x="46.70" y="69.35" font-size="9.9" font-weight="bold" text-anchor="end" fill="#222" stroke="#222" stroke-width="0.25" transform="translate(46.70,0) scale(0.84,1) translate(-46.70,0)">1</text>
<text x="46.70" y="111.10" font-size="9.9" font-weight="bold" text-anchor="end" fill="#222" stroke="#222" stroke-width="0.25" transform="translate(46.70,0) scale(0.84,1) translate(-46.70,0)">0</text>
<text x="46.70" y="152.85" font-size="9.9" font-weight="bold" text-anchor="end" fill="#222" stroke="#222" stroke-width="0.25" transform="translate(46.70,0) scale(0.84,1) translate(-46.70,0)">-1</text>
<text transform="translate(23.70,88.30) rotate(-90)" x="0" y="0" font-size="13.2" font-weight="bold" text-anchor="middle" fill="#111" stroke="#111" stroke-width="0.25">Voltage (V)</text>
<text x="151.50" y="27.30" font-size="7.8" font-weight="bold" text-anchor="start" fill="#111" stroke="#111" stroke-width="0.3" letter-spacing="1.5" >ZnO</text>
<text x="151.50" y="39.20" font-size="7.8" font-weight="bold" text-anchor="start" fill="#111" stroke="#111" stroke-width="0.3" letter-spacing="0.7" >ZnO/Ti<tspan font-size="4.8" dy="3.6" dx="0.8">3</tspan><tspan dy="-3.6" dx="0.3">C</tspan><tspan font-size="4.8" dy="3.6" dx="0.9">2</tspan></text>
<text x="151.50" y="53.80" font-size="7.8" font-weight="bold" text-anchor="start" fill="#111" stroke="#111" stroke-width="0.3" letter-spacing="0.7" >ZnO/Ti<tspan font-size="4.8" dy="3.6" dx="0.8">3</tspan><tspan dy="-3.6" dx="0.3">C</tspan><tspan font-size="4.8" dy="3.6" dx="0.9">2</tspan><tspan dy="-3.6"> poled</tspan></text>
<text x="255.8" y="21.4" font-size="14.2" font-weight="bold" fill="#111" letter-spacing="0.3">(b)</text>
<text x="291.70" y="27.70" font-size="9.9" font-weight="bold" text-anchor="end" fill="#222" stroke="#222" stroke-width="0.25" transform="translate(291.70,0) scale(0.84,1) translate(-291.70,0)">15</text>
<text x="291.70" y="52.70" font-size="9.9" font-weight="bold" text-anchor="end" fill="#222" stroke="#222" stroke-width="0.25" transform="translate(291.70,0) scale(0.84,1) translate(-291.70,0)">10</text>
<text x="291.70" y="77.70" font-size="9.9" font-weight="bold" text-anchor="end" fill="#222" stroke="#222" stroke-width="0.25" transform="translate(291.70,0) scale(0.84,1) translate(-291.70,0)">5</text>
<text x="291.70" y="102.70" font-size="9.9" font-weight="bold" text-anchor="end" fill="#222" stroke="#222" stroke-width="0.25" transform="translate(291.70,0) scale(0.84,1) translate(-291.70,0)">0</text>
<text x="291.70" y="127.70" font-size="9.9" font-weight="bold" text-anchor="end" fill="#222" stroke="#222" stroke-width="0.25" transform="translate(291.70,0) scale(0.84,1) translate(-291.70,0)">-5</text>
<text x="291.70" y="152.70" font-size="9.9" font-weight="bold" text-anchor="end" fill="#222" stroke="#222" stroke-width="0.25" transform="translate(291.70,0) scale(0.84,1) translate(-291.70,0)">-10</text>
<text transform="translate(264.50,89.10) rotate(-90)" x="0" y="0" font-size="13.2" font-weight="bold" text-anchor="middle" fill="#111" stroke="#111" stroke-width="0.25">Voltage (V)</text>
<text x="320.00" y="26.40" font-size="7.8" font-weight="bold" text-anchor="start" fill="#111" stroke="#111" stroke-width="0.3" letter-spacing="0.7" >Li: ZnO</text>
<text x="320.00" y="38.40" font-size="7.8" font-weight="bold" text-anchor="start" fill="#111" stroke="#111" stroke-width="0.3" letter-spacing="0.7" >Li: ZnO/Ti<tspan font-size="4.8" dy="3.6" dx="0.8">3</tspan><tspan dy="-3.6" dx="0.3">C</tspan><tspan font-size="4.8" dy="3.6" dx="0.9">2</tspan></text>
<text x="320.00" y="53.20" font-size="7.8" font-weight="bold" text-anchor="start" fill="#111" stroke="#111" stroke-width="0.3" letter-spacing="0.7" >Li: ZnO poled</text>
<text x="320.00" y="64.60" font-size="7.8" font-weight="bold" text-anchor="start" fill="#111" stroke="#111" stroke-width="0.3" letter-spacing="0.7" >Li: ZnO/Ti<tspan font-size="4.8" dy="3.6" dx="0.8">3</tspan><tspan dy="-3.6" dx="0.3">C</tspan><tspan font-size="4.8" dy="3.6" dx="0.9">2</tspan><tspan dy="-3.6"> poled</tspan></text>
<text x="10.5" y="196.3" font-size="14.2" font-weight="bold" fill="#111" letter-spacing="0.3">(c)</text>
<text x="46.10" y="208.70" font-size="9.9" font-weight="bold" text-anchor="end" fill="#222" stroke="#222" stroke-width="0.25" transform="translate(46.10,0) scale(0.84,1) translate(-46.10,0)">10</text>
<text x="46.10" y="237.75" font-size="9.9" font-weight="bold" text-anchor="end" fill="#222" stroke="#222" stroke-width="0.25" transform="translate(46.10,0) scale(0.84,1) translate(-46.10,0)">5</text>
<text x="46.10" y="266.80" font-size="9.9" font-weight="bold" text-anchor="end" fill="#222" stroke="#222" stroke-width="0.25" transform="translate(46.10,0) scale(0.84,1) translate(-46.10,0)">0</text>
<text x="46.10" y="295.85" font-size="9.9" font-weight="bold" text-anchor="end" fill="#222" stroke="#222" stroke-width="0.25" transform="translate(46.10,0) scale(0.84,1) translate(-46.10,0)">-5</text>
<text x="46.10" y="324.90" font-size="9.9" font-weight="bold" text-anchor="end" fill="#222" stroke="#222" stroke-width="0.25" transform="translate(46.10,0) scale(0.84,1) translate(-46.10,0)">-10</text>
<text transform="translate(21.20,266.00) rotate(-90)" x="0" y="0" font-size="12.7" font-weight="bold" text-anchor="middle" fill="#111" stroke="#111" stroke-width="0.25">Voltage (V)</text>
<text x="57.80" y="204.20" font-size="8.8" font-weight="bold" text-anchor="start" fill="#111" stroke="#111" stroke-width="0.3" letter-spacing="0" >Li: ZnO/Ti<tspan font-size="4.8" dy="3.6" dx="0.8">3</tspan><tspan dy="-3.6" dx="0.3">C</tspan><tspan font-size="4.8" dy="3.6" dx="0.9">2</tspan><tspan dy="-3.6"> - 5 wt%</tspan></text>
<text x="62.70" y="239.60" font-size="8.5" font-weight="bold" text-anchor="start" fill="#111" stroke="#111" stroke-width="0.3" letter-spacing="0.72" >0 kV/cm</text>
<text x="121.10" y="220.90" font-size="8.5" font-weight="bold" text-anchor="start" fill="#111" stroke="#111" stroke-width="0.3" letter-spacing="0.8" >37 kV/cm</text>
<text x="181.70" y="202.50" font-size="8.5" font-weight="bold" text-anchor="start" fill="#111" stroke="#111" stroke-width="0.3" letter-spacing="0.42" >81 kV/cm</text>
<text x="255.8" y="196.3" font-size="14.2" font-weight="bold" fill="#111" letter-spacing="0.3">(d)</text>
<text x="291.10" y="208.60" font-size="9.9" font-weight="bold" text-anchor="end" fill="#222" stroke="#222" stroke-width="0.25" transform="translate(291.10,0) scale(0.84,1) translate(-291.10,0)">10</text>
<text x="291.10" y="237.80" font-size="9.9" font-weight="bold" text-anchor="end" fill="#222" stroke="#222" stroke-width="0.25" transform="translate(291.10,0) scale(0.84,1) translate(-291.10,0)">5</text>
<text x="291.10" y="267.00" font-size="9.9" font-weight="bold" text-anchor="end" fill="#222" stroke="#222" stroke-width="0.25" transform="translate(291.10,0) scale(0.84,1) translate(-291.10,0)">0</text>
<text x="291.10" y="296.20" font-size="9.9" font-weight="bold" text-anchor="end" fill="#222" stroke="#222" stroke-width="0.25" transform="translate(291.10,0) scale(0.84,1) translate(-291.10,0)">-5</text>
<text x="291.10" y="325.40" font-size="9.9" font-weight="bold" text-anchor="end" fill="#222" stroke="#222" stroke-width="0.25" transform="translate(291.10,0) scale(0.84,1) translate(-291.10,0)">-10</text>
<text transform="translate(266.20,266.00) rotate(-90)" x="0" y="0" font-size="12.7" font-weight="bold" text-anchor="middle" fill="#111" stroke="#111" stroke-width="0.25">Voltage (V)</text>
<text x="308.00" y="207.20" font-size="8.8" font-weight="bold" text-anchor="start" fill="#111" stroke="#111" stroke-width="0.3" letter-spacing="0.17" >Li: ZnO/ Ti<tspan font-size="4.8" dy="3.6" dx="0.8">3</tspan><tspan dy="-3.6" dx="0.3">C</tspan><tspan font-size="4.8" dy="3.6" dx="0.9">2</tspan><tspan dy="-3.6"> - 5 wt%</tspan></text>
<text x="305.75" y="330.50" font-size="8.6" font-weight="bold" text-anchor="start" fill="#111" stroke="#111" stroke-width="0.3" letter-spacing="0.3" >ε = 0.13%</text>
<text x="365.50" y="330.50" font-size="8.6" font-weight="bold" text-anchor="start" fill="#111" stroke="#111" stroke-width="0.3" letter-spacing="0.3" >ε = 0.27%</text>
<text x="426.75" y="330.50" font-size="8.6" font-weight="bold" text-anchor="start" fill="#111" stroke="#111" stroke-width="0.3" letter-spacing="0.3" >ε = 0.33%</text>
<text x="10.5" y="374.6" font-size="14.2" font-weight="bold" fill="#111" letter-spacing="0.3">(e)</text>
<text x="46.60" y="383.90" font-size="9.4" font-weight="bold" text-anchor="end" fill="#222" stroke="#222" stroke-width="0.25" transform="translate(46.60,0) scale(0.84,1) translate(-46.60,0)">10</text>
<text x="46.60" y="444.15" font-size="9.4" font-weight="bold" text-anchor="end" fill="#222" stroke="#222" stroke-width="0.25" transform="translate(46.60,0) scale(0.84,1) translate(-46.60,0)">5</text>
<text x="46.60" y="504.40" font-size="9.4" font-weight="bold" text-anchor="end" fill="#222" stroke="#222" stroke-width="0.25" transform="translate(46.60,0) scale(0.84,1) translate(-46.60,0)">0</text>
<text x="68.00" y="525.70" font-size="8.7" font-weight="bold" text-anchor="middle" fill="#111" stroke="#111" stroke-width="0.3" letter-spacing="0" >0.0</text>
<text x="105.00" y="525.70" font-size="8.7" font-weight="bold" text-anchor="middle" fill="#111" stroke="#111" stroke-width="0.3" letter-spacing="0" >0.5</text>
<text x="142.00" y="525.70" font-size="8.7" font-weight="bold" text-anchor="middle" fill="#111" stroke="#111" stroke-width="0.3" letter-spacing="0" >1.0</text>
<text x="179.00" y="525.70" font-size="8.7" font-weight="bold" text-anchor="middle" fill="#111" stroke="#111" stroke-width="0.3" letter-spacing="0" >1.5</text>
<text x="216.00" y="525.70" font-size="8.7" font-weight="bold" text-anchor="middle" fill="#111" stroke="#111" stroke-width="0.3" letter-spacing="0" >2.0</text>
<text transform="translate(20.50,443.00) rotate(-90)" x="0" y="0" font-size="13.2" font-weight="bold" text-anchor="middle" fill="#111" stroke="#111" stroke-width="0.25">Voltage (V)</text>
<text x="96.90" y="542.60" font-size="12" font-weight="bold" text-anchor="start" fill="#111" stroke="#111" stroke-width="0.3" letter-spacing="0" >Frequency (Hz)</text>
<text x="63.80" y="389.50" font-size="8.6" font-weight="bold" text-anchor="start" fill="#111" stroke="#111" stroke-width="0.05" letter-spacing="0.42" transform="translate(63.8,0) scale(0.92,1) translate(-63.8,0)">Li: ZnO/Ti<tspan font-size="4.8" dy="3.6" dx="0.8">3</tspan><tspan dy="-3.6" dx="0.3">C</tspan><tspan font-size="4.8" dy="3.6" dx="0.9">2</tspan><tspan dy="-3.6"> - 5 wt%</tspan></text>
<text x="63.80" y="402.90" font-size="8.8" font-weight="bold" text-anchor="start" fill="#111" stroke="#111" stroke-width="0.05" letter-spacing="0.35" transform="translate(63.8,0) scale(0.92,1) translate(-63.8,0)">ε = 0.33%</text>
<text x="255.8" y="374.6" font-size="14.2" font-weight="bold" fill="#111" letter-spacing="0.3">(f)</text>
<text x="291.20" y="394.40" font-size="9.9" font-weight="bold" text-anchor="end" fill="#222" stroke="#222" stroke-width="0.25" transform="translate(291.20,0) scale(0.84,1) translate(-291.20,0)">10</text>
<text x="291.20" y="423.65" font-size="9.9" font-weight="bold" text-anchor="end" fill="#222" stroke="#222" stroke-width="0.25" transform="translate(291.20,0) scale(0.84,1) translate(-291.20,0)">5</text>
<text x="291.20" y="452.90" font-size="9.9" font-weight="bold" text-anchor="end" fill="#222" stroke="#222" stroke-width="0.25" transform="translate(291.20,0) scale(0.84,1) translate(-291.20,0)">0</text>
<text x="291.20" y="482.15" font-size="9.9" font-weight="bold" text-anchor="end" fill="#222" stroke="#222" stroke-width="0.25" transform="translate(291.20,0) scale(0.84,1) translate(-291.20,0)">-5</text>
<text x="291.20" y="511.40" font-size="9.9" font-weight="bold" text-anchor="end" fill="#222" stroke="#222" stroke-width="0.25" transform="translate(291.20,0) scale(0.84,1) translate(-291.20,0)">-10</text>
<text transform="translate(266.20,438.60) rotate(-90)" x="0" y="0" font-size="13.2" font-weight="bold" text-anchor="middle" fill="#111" stroke="#111" stroke-width="0.25">Voltage (V)</text>
<text x="302.00" y="383.60" font-size="9" font-weight="bold" text-anchor="start" fill="#111" stroke="#111" stroke-width="0.3" letter-spacing="1.05" >30 min</text>
<text x="345.00" y="383.60" font-size="9" font-weight="bold" text-anchor="start" fill="#111" stroke="#111" stroke-width="0.3" letter-spacing="1.05" >60 min</text>
<text x="389.20" y="383.60" font-size="9" font-weight="bold" text-anchor="start" fill="#111" stroke="#111" stroke-width="0.3" letter-spacing="1.05" >90 min</text>
<text x="431.50" y="383.60" font-size="9" font-weight="bold" text-anchor="start" fill="#111" stroke="#111" stroke-width="0.3" letter-spacing="1.25" >120 min</text>
</svg>
</body></html>
